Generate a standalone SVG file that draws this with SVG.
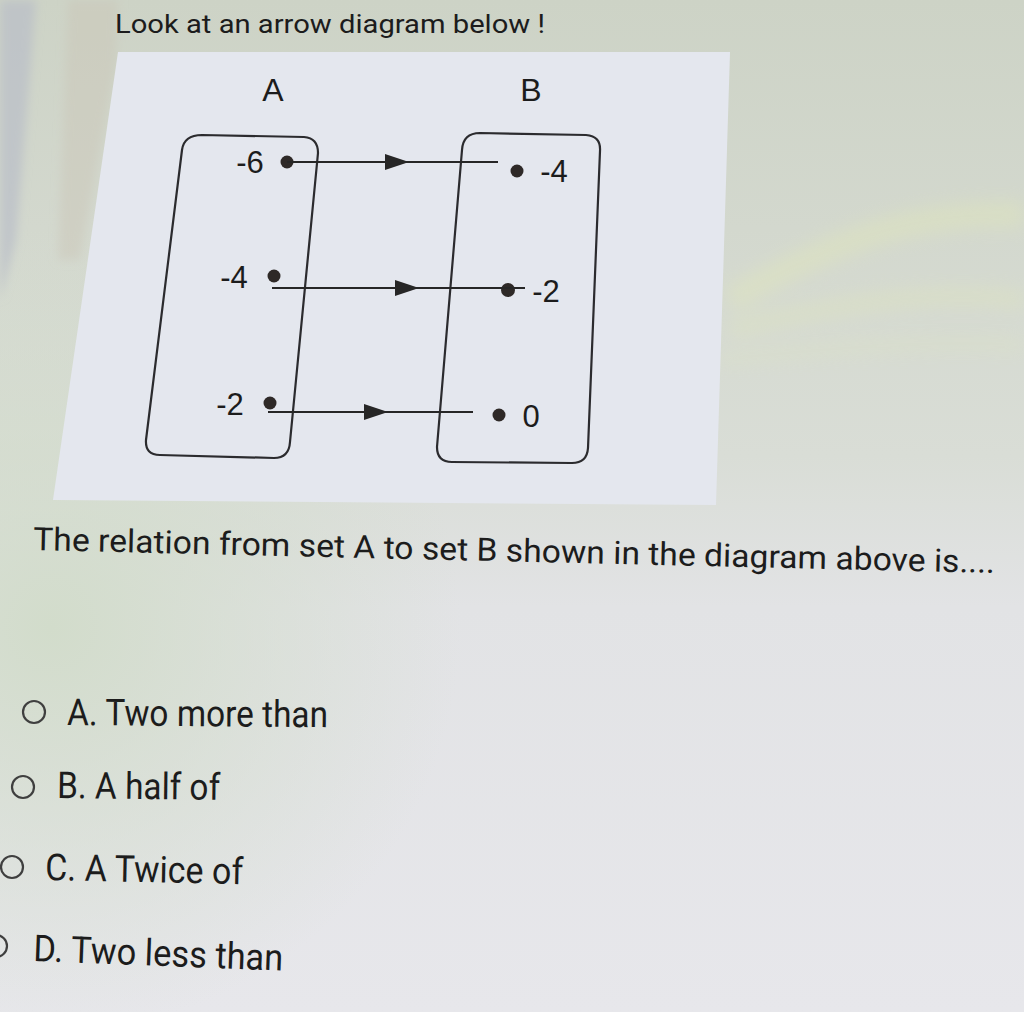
<svg xmlns="http://www.w3.org/2000/svg" width="1024" height="1012" viewBox="0 0 1024 1012">
<defs>
  <style>
    .box{fill:none;stroke:#2b2b2e;stroke-width:2.2;stroke-linejoin:round}
    .edge{stroke:#262626;stroke-width:2.2;fill:none}
    .head{fill:#262626}
    .dot{fill:#2e2927}
    .lbl{font-family:"Liberation Sans",Arial,sans-serif;font-size:31px;fill:#1c1c1c}
    .set{font-family:"Liberation Sans",Arial,sans-serif;font-size:32px;fill:#1c1c1c}
    .q{font-family:Roboto,"Liberation Sans",Arial,sans-serif;fill:#1c1c1c}
    .radio{fill:none;stroke:#3f3f3f;stroke-width:2.2}
  </style>
  <linearGradient id="bg" x1="0" y1="0" x2="0" y2="1">
    <stop offset="0" stop-color="#cdd3c6"/>
    <stop offset="0.45" stop-color="#d9ddd6"/>
    <stop offset="0.6" stop-color="#e2e3e5"/>
    <stop offset="1" stop-color="#e7e7eb"/>
  </linearGradient>
  <radialGradient id="greenL" cx="0.05" cy="0.62" r="0.4">
    <stop offset="0" stop-color="#d2dccb"/>
    <stop offset="1" stop-color="#d2dccb" stop-opacity="0"/>
  </radialGradient>
  <filter id="blur" x="-20%" y="-50%" width="140%" height="200%"><feGaussianBlur stdDeviation="9"/></filter>
  <filter id="soft"><feGaussianBlur stdDeviation="5"/></filter>
  <path id="ah" d="M0,-8 L24,0 L0,8 Z"/>
</defs>

<!-- background photo tones -->
<rect x="0" y="0" width="1024" height="1012" fill="url(#bg)"/>
<rect x="0" y="0" width="1024" height="1012" fill="url(#greenL)"/>
<g filter="url(#soft)">
  <polygon points="0,0 36,0 16,240 0,300" fill="#b9bec7" opacity="0.7"/>
  <polygon points="68,0 118,0 116,60 80,260 58,260" fill="#c9c6b6" opacity="0.45"/>
</g>
<!-- swirl bands on the right -->
<g filter="url(#blur)" fill="none" opacity="0.35">
  <path d="M730,300 C820,250 900,210 1024,215" stroke="#e4ebb4" stroke-width="26"/>
  <path d="M730,330 C850,300 950,290 1024,300" stroke="#e2e9b6" stroke-width="16"/>
  <path d="M720,360 C850,345 950,340 1024,345" stroke="#e0e7bc" stroke-width="10"/>
  <path d="M600,330 C540,300 430,310 380,360" stroke="#e2eac0" stroke-width="30"/>
</g>
<!-- white panel -->
<polygon points="118,52 730,52 716,505 53,500" fill="#e4e7ee"/>

<!-- title -->
<text class="q" x="115" y="33" font-size="26" fill="#2a2a2a" textLength="430" lengthAdjust="spacingAndGlyphs">Look at an arrow diagram below !</text>

<!-- set labels -->
<text class="set" x="273" y="101" text-anchor="middle">A</text>
<text class="set" x="531" y="101" text-anchor="middle">B</text>

<!-- set A node -->
<g id="setA">
  <path class="box" d="M202,135 L304,137 Q318,138 318,153 L290,442 Q289,458 274,458 L160,455 Q145,455 146,440 L182,150 Q184,135 202,135 Z"/>
</g>
<!-- set B node -->
<g id="setB">
  <path class="box" d="M480,133 L586,135 Q601,136 600,151 L588,448 Q587,463 572,463 L452,462 Q437,462 437,447 L462,150 Q463,133 480,133 Z"/>
</g>

<!-- elements of A -->
<g id="a-6">
  <circle class="dot" cx="287" cy="162" r="6.5"/>
  <text class="lbl" x="250" y="173" text-anchor="middle">-6</text>
</g>
<g id="a-4">
  <circle class="dot" cx="274" cy="276" r="6.5"/>
  <text class="lbl" x="234" y="288" text-anchor="middle">-4</text>
</g>
<g id="a-2">
  <circle class="dot" cx="270" cy="403" r="6.5"/>
  <text class="lbl" x="230" y="415" text-anchor="middle">-2</text>
</g>

<!-- elements of B -->
<g id="b-4">
  <circle class="dot" cx="517" cy="171" r="6.5"/>
  <text class="lbl" x="554" y="182" text-anchor="middle">-4</text>
</g>
<g id="b-2">
  <circle class="dot" cx="508" cy="290" r="7"/>
  <text class="lbl" x="546" y="302" text-anchor="middle">-2</text>
</g>
<g id="b0">
  <circle class="dot" cx="499" cy="415" r="6.5"/>
  <text class="lbl" x="531" y="427" text-anchor="middle">0</text>
</g>

<!-- connectors -->
<g id="connectors">
  <line class="edge" x1="287" y1="162" x2="498" y2="162"/>
  <use href="#ah" class="head" x="385" y="162"/>
  <line class="edge" x1="272" y1="288" x2="525" y2="288"/>
  <use href="#ah" class="head" x="395" y="288"/>
  <line class="edge" x1="268" y1="412" x2="473" y2="412"/>
  <use href="#ah" class="head" x="364" y="412"/>
</g>

<!-- question -->
<text class="q" x="33" y="550" font-size="32" textLength="962" lengthAdjust="spacingAndGlyphs" transform="rotate(1.37 33 550)">The relation from set A to set B shown in the diagram above is....</text>

<!-- options -->
<g id="optA">
  <circle class="radio" cx="34" cy="712" r="11"/>
  <text class="q" x="67" y="725" font-size="37" textLength="261" lengthAdjust="spacingAndGlyphs" transform="rotate(0.5 67 725)">A. Two more than</text>
</g>
<g id="optB">
  <circle class="radio" cx="23" cy="787" r="11"/>
  <text class="q" x="57" y="798" font-size="37" textLength="163" lengthAdjust="spacingAndGlyphs" transform="rotate(0.7 57 798)">B. A half of</text>
</g>
<g id="optC">
  <circle class="radio" cx="12" cy="867" r="11"/>
  <text class="q" x="45" y="880" font-size="37" textLength="198" lengthAdjust="spacingAndGlyphs" transform="rotate(1.2 45 880)">C. A Twice of</text>
</g>
<g id="optD">
  <circle class="radio" cx="-4" cy="946" r="11"/>
  <text class="q" x="33" y="961" font-size="37" textLength="250" lengthAdjust="spacingAndGlyphs" transform="rotate(2.2 33 961)">D. Two less than</text>
</g>
</svg>
